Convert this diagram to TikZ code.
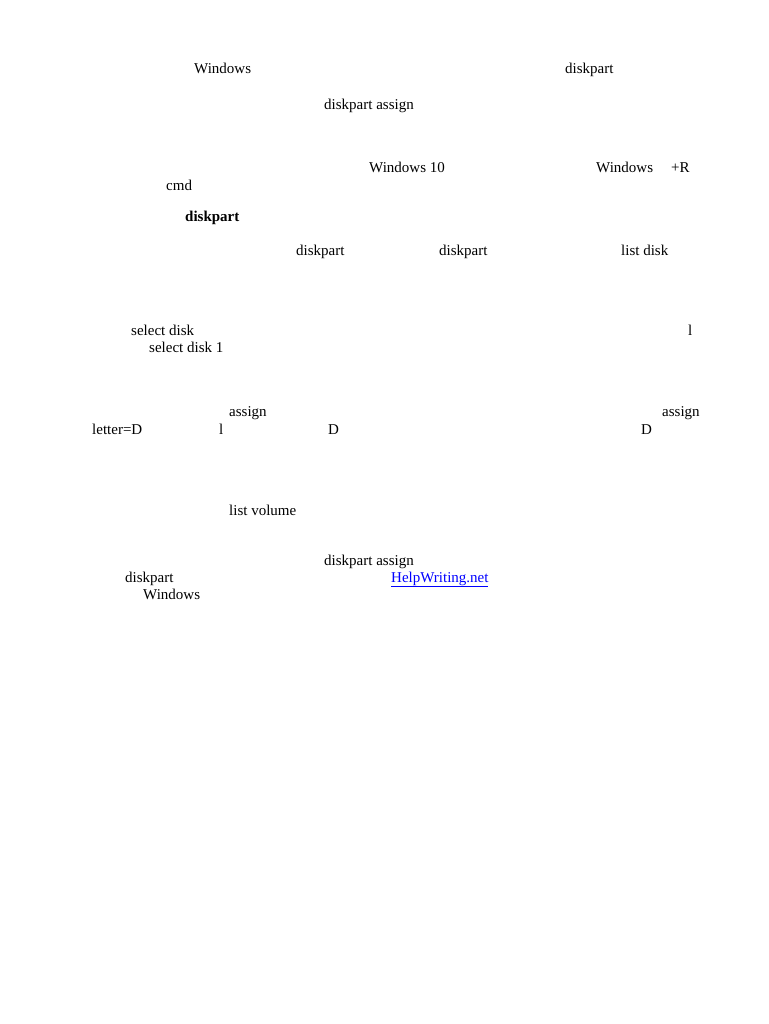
\documentclass[tikz,border=0pt]{standalone}
\usepackage{fontspec}
\setmainfont{Liberation Serif}
\begin{document}
\begin{tikzpicture}[x=1pt,y=-1pt,t/.style={anchor=base west,inner sep=0pt,font=\fontsize{15}{17}\selectfont}]
\useasboundingbox[fill=white] (0,0) rectangle (768,1024);
\node[t] (a1) at (194,74) {Windows};
\node[t] (a2) at (565,74) {diskpart};
\node[t] (a3) at (324,110) {diskpart assign};
\node[t] (b1) at (369,173) {Windows 10};
\node[t] (b2) at (596,173) {Windows};
\node[t] (b3) at (671,173) {+R};
\node[t] (b4) at (166,191) {cmd};
\node[t,font=\fontsize{15}{17}\selectfont\bfseries] (c1) at (185,222) {diskpart};
\node[t] (d1) at (296,255) {diskpart};
\node[t] (d2) at (439,255) {diskpart};
\node[t] (d3) at (621,255) {list disk};
\node[t] (e1) at (131,335) {select disk};
\node[t] (e2) at (688,335) {l};
\node[t] (e3) at (149,352) {select disk 1};
\node[t] (f1) at (229,416) {assign};
\node[t] (f2) at (662,416) {assign};
\node[t] (f3) at (92,434) {letter=D};
\node[t] (f4) at (219,434) {l};
\node[t] (f5) at (328,434) {D};
\node[t] (f6) at (641,434) {D};
\node[t] (g1) at (229,515) {list volume};
\node[t] (h1) at (324,565) {diskpart assign};
\node[t] (h2) at (125,582) {diskpart};
\node[t,text=blue] (h3) at (391,582) {\underline{HelpWriting.net}};
\node[t] (h4) at (143,599) {Windows};
\end{tikzpicture}
\end{document}
